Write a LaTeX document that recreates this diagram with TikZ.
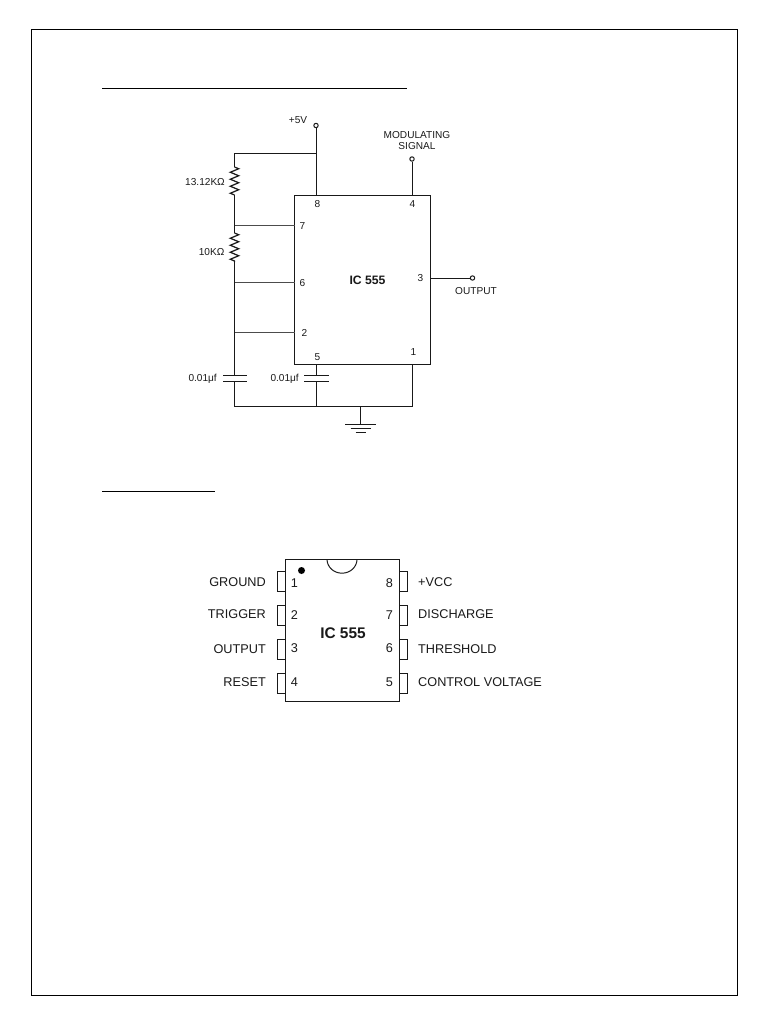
\documentclass[tikz,border=0pt]{standalone}
\usepackage{fontspec}
\setmainfont{Liberation Sans}
\usetikzlibrary{decorations.pathmorphing,calc}
\definecolor{ink}{gray}{0.1}
\tikzset{
  wire/.style={draw=ink,line width=1pt},
  thin wire/.style={draw=black!70,line width=1pt},
  small/.style={font=\fontsize{10.1}{11}\selectfont,text=ink,inner sep=0pt,align=center},
  big/.style={font=\fontsize{12.7}{15}\selectfont,text=ink,inner sep=0pt},
  terminal/.style={circle,draw=ink,line width=1pt,fill=white,minimum size=4.4pt,inner sep=0pt},
  zig/.style={wire,line width=1.2pt,decoration={zigzag,segment length=7pt,amplitude=4.2pt},decorate},
  pinbox/.style={draw=ink,line width=1pt},
}
\begin{document}
\begin{tikzpicture}[x=1pt,y=-1pt]
\useasboundingbox (0,0) rectangle (768,1024);
\draw[draw=black,line width=1pt] (31,29.5) rectangle (737,995);
\coordinate (h1a) at (102,89); \coordinate (h1b) at (407,89);
\coordinate (h2a) at (102,491.5); \coordinate (h2b) at (215,491.5);
\draw[draw=black,line width=1pt] (h1a) -- (h1b);
\draw[draw=black,line width=1pt] (h2a) -- (h2b);

% schematic IC
\node[draw=ink,line width=1pt,minimum width=135.5pt,minimum height=168.5pt,inner sep=0pt] (ic) at (362.25,279.75) {};
\node[font=\bfseries\fontsize{12.2}{14}\selectfont,text=ink,inner sep=0pt] (icl) at (367.5,280) {IC 555};
\foreach \n/\t/\x/\y in {p8/8/317.5/204,p4/4/412.5/204.5,p7/7/302.5/226.5,p6/6/302.5/283.5,p2/2/304.5/332.5,p3/3/420.5/278.5,p5/5/317.5/357.5,p1/1/413.5/352.5}
  \node[small] (\n) at (\x,\y) {\t};

% terminals
\coordinate (j5) at (316,153.5);
\coordinate (ic8) at (316,195.5);
\coordinate (ic4) at (412,195.5);
\coordinate (tl) at (234.5,153.5);
\coordinate (r1a) at (234.5,167);
\coordinate (r1b) at (234.5,195);
\coordinate (j7) at (234.5,226);
\coordinate (ic7) at (294.5,226);
\coordinate (r2a) at (234.5,233);
\coordinate (r2b) at (234.5,262);
\coordinate (j6) at (234.5,282.5);
\coordinate (ic6) at (294.5,282.5);
\coordinate (j2) at (234.5,332);
\coordinate (ic2) at (294.5,332);
\coordinate (c1a) at (234.5,375.5);
\coordinate (c1b) at (234.5,381.5);
\coordinate (bl) at (234.5,406.7);
\coordinate (ic5) at (316.5,364);
\coordinate (c2a) at (316.5,375.5);
\coordinate (c2b) at (316.5,381.5);
\coordinate (bm) at (316.5,406.7);
\coordinate (ic1) at (412,364);
\coordinate (br) at (412,406.7);
\coordinate (gt) at (360.7,406.7);
\coordinate (g1) at (360.7,424);
\coordinate (ic3) at (430,278);

\node[terminal] (t5) at (316,125.5) {};
\node[terminal] (tm) at (412,159) {};
\node[terminal] (to) at (472.5,278) {};
\node[small] (l5) at (298,120.5) {+5V};
\node[small] (lm) at (417,141) {MODULATING\\SIGNAL};
\node[small] (lo) at (476,291.5) {OUTPUT};
\node[small,anchor=east] (lr1) at (225,182.5) {13.12KΩ};
\node[small,anchor=east] (lr2) at (224.5,252) {10KΩ};
\node[small,anchor=east] (lc1) at (217,378.5) {0.01μf};
\node[small,anchor=east] (lc2) at (299,378.5) {0.01μf};

\draw[wire] (t5) -- (ic8);
\draw[wire] (tm) -- (ic4);
\draw[wire] (ic3) -- (to);
\draw[wire] (j5) -- (tl) -- (r1a);
\draw[zig] (r1a) -- (r1b);
\draw[wire] (r1b) -- (r2a);
\draw[zig] (r2a) -- (r2b);
\draw[wire] (r2b) -- (c1a);
\draw[thin wire] (j7) -- (ic7);
\draw[thin wire] (j6) -- (ic6);
\draw[thin wire] (j2) -- (ic2);
\draw[wire] (c1b) -- (bl) -- (br) -- (ic1);
\draw[wire] (ic5) -- (c2a);
\draw[wire] (c2b) -- (bm);
\draw[wire] (gt) -- (g1);
\draw[wire] ($(c1a)+(-11.5,0)$) -- ($(c1a)+(12.5,0)$);
\draw[wire] ($(c1b)+(-11.5,0)$) -- ($(c1b)+(12.5,0)$);
\draw[wire] ($(c2a)+(-12.5,0)$) -- ($(c2a)+(12.5,0)$);
\draw[wire] ($(c2b)+(-12.5,0)$) -- ($(c2b)+(12.5,0)$);
\draw[wire] ($(g1)+(-15.5,0)$) -- ($(g1)+(15.5,0)$);
\draw[wire] ($(g1)+(-10,4)$) -- ($(g1)+(10,4)$);
\draw[wire] ($(g1)+(-5,8)$) -- ($(g1)+(5,8)$);

% pinout
\node[draw=ink,line width=1pt,minimum width=114pt,minimum height=142.5pt,inner sep=0pt] (chip) at (342,630.5) {};
\draw[wire] (327,559.2) arc[start angle=180,end angle=0,x radius=15,y radius=14];
\node[circle,fill=black,minimum size=7pt,inner sep=0pt] (dot) at (301.5,570.5) {};
\node[font=\bfseries\fontsize{15.4}{17}\selectfont,text=ink,inner sep=0pt] (chipl) at (343,633.5) {IC 555};
\foreach \y in {581,615,649,683.5} {
  \draw[pinbox] (285,\y-10) -- (277,\y-10) -- (277,\y+10) -- (285,\y+10);
  \draw[pinbox] (399,\y-10) -- (407,\y-10) -- (407,\y+10) -- (399,\y+10);
}
\foreach \n/\t/\x/\y in {n1/1/294.5/583,n2/2/294.5/615.5,n3/3/294.5/648.5,n4/4/294.5/682.5,n8/8/389.5/583,n7/7/389.5/615.5,n6/6/389.5/648.5,n5/5/389.5/682.5}
  \node[big] (\n) at (\x,\y) {\t};
\foreach \n/\t/\y in {a/GROUND/582,b/TRIGGER/614.5,c/OUTPUT/649,d/RESET/682.5}
  \node[big,anchor=east] (\n) at (266,\y) {\t};
\foreach \n/\t/\y in {e/+VCC/582,f/DISCHARGE/614.5,g/THRESHOLD/649,h/CONTROL VOLTAGE/682.5}
  \node[big,anchor=west] (\n) at (418,\y) {\t};
\end{tikzpicture}
\end{document}
